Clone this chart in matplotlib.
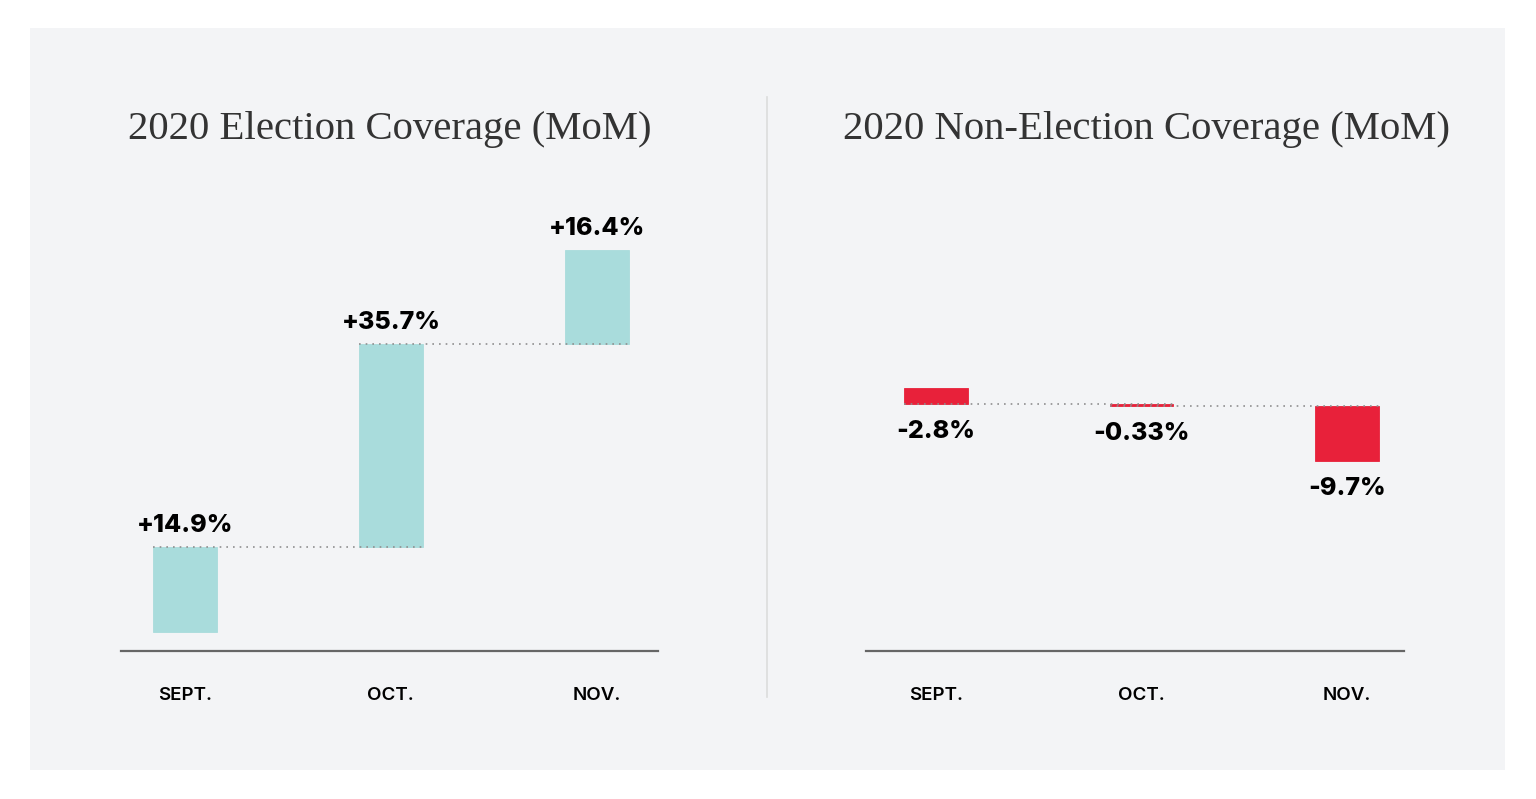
import matplotlib.pyplot as plt
from matplotlib.patches import Rectangle
from matplotlib.lines import Line2D


MONTHS = ["SEPT.", "OCT.", "NOV."]

ELECTION_TITLE = "2020 Election Coverage (MoM)"
ELECTION_CHANGE = [14.9, 35.7, 16.4]
ELECTION_LABELS = ["+14.9%", "+35.7%", "+16.4%"]

NON_ELECTION_TITLE = "2020 Non-Election Coverage (MoM)"
NON_ELECTION_CHANGE = [-2.8, -0.33, -9.7]
NON_ELECTION_LABELS = ["-2.8%", "-0.33%", "-9.7%"]

W, H = 1536, 799
PANEL_BG = "#f3f4f6"
TEAL = "#a9dcdc"
RED = "#e8213a"
TITLE_FONT = "Liberation Serif"
LABEL_FONT = "Inter"


def fig_box(x0, y0, x1, y1):
    # pixel box (top-left origin) -> figure fraction rect
    return [x0 / W, 1 - y1 / H, (x1 - x0) / W, (y1 - y0) / H]


def waterfall(ax, changes, labels, color, ylim, xlim):
    width = 0.31
    level = 0.0
    for i, (delta, text) in enumerate(zip(changes, labels)):
        ax.bar(i, delta, bottom=level, width=width, color=color,
               edgecolor=color, linewidth=0.6, zorder=2)
        end = level + delta
        if delta >= 0:
            ax.annotate(text, (i, end), xytext=(0, 7), textcoords="offset points",
                        ha="center", va="bottom", fontsize=18, fontweight="heavy",
                        family=LABEL_FONT, color="#000000")
        else:
            ax.annotate(text, (i, end), xytext=(0, -11.5), textcoords="offset points",
                        ha="center", va="top", fontsize=18, fontweight="heavy",
                        family=LABEL_FONT, color="#000000")
        if i < len(changes) - 1:
            ax.plot([i - width / 2, i + 1 + width / 2], [end, end],
                    linestyle=(0, (1, 3)), color="#8f8f8f", linewidth=1.2, zorder=3)
        level = end

    ax.set_xlim(*xlim)
    ax.set_ylim(*ylim)
    ax.set_facecolor("none")
    for side in ["top", "left", "right"]:
        ax.spines[side].set_visible(False)
    ax.spines["bottom"].set_color("#666666")
    ax.spines["bottom"].set_linewidth(1.6)
    ax.set_yticks([])
    ax.set_xticks(range(len(MONTHS)))
    ax.set_xticklabels(MONTHS, fontsize=13.5, family=LABEL_FONT, fontweight="semibold",
                       color="#000000")
    ax.tick_params(axis="x", length=0, pad=26)


def main():
    fig = plt.figure(figsize=(W / 100, H / 100), dpi=100, facecolor="white")

    fig.patches.append(Rectangle((30 / W, 1 - 770 / H), (1505 - 30) / W, (770 - 28) / H,
                                 transform=fig.transFigure, facecolor=PANEL_BG,
                                 edgecolor="none", zorder=-5))
    fig.lines.append(Line2D([767 / W, 767 / W], [1 - 697 / H, 1 - 97 / H],
                            transform=fig.transFigure, color="#dcdcdc", linewidth=1.2,
                            zorder=-4))

    px_per_unit = 5.7
    left_ax = fig.add_axes(fig_box(121, 200, 658, 651))
    waterfall(left_ax, ELECTION_CHANGE, ELECTION_LABELS, TEAL,
              ylim=(-(651 - 632) / px_per_unit, (632 - 200) / px_per_unit),
              xlim=(-0.31, 2.297))

    right_ax = fig.add_axes(fig_box(866, 200, 1404, 651))
    waterfall(right_ax, NON_ELECTION_CHANGE, NON_ELECTION_LABELS, RED,
              ylim=(-(651 - 388) / px_per_unit, (388 - 200) / px_per_unit),
              xlim=(-0.34, 2.277))

    fig.text(389.5 / W, 1 - 129 / H, ELECTION_TITLE, ha="center", va="center",
             fontsize=29.3, family=TITLE_FONT, color="#333333")
    fig.text(1146.5 / W, 1 - 129 / H, NON_ELECTION_TITLE, ha="center", va="center",
             fontsize=29.3, family=TITLE_FONT, color="#333333")

    fig.savefig("out.png", dpi=100, facecolor="white")
    plt.close(fig)


if __name__ == "__main__":
    main()
